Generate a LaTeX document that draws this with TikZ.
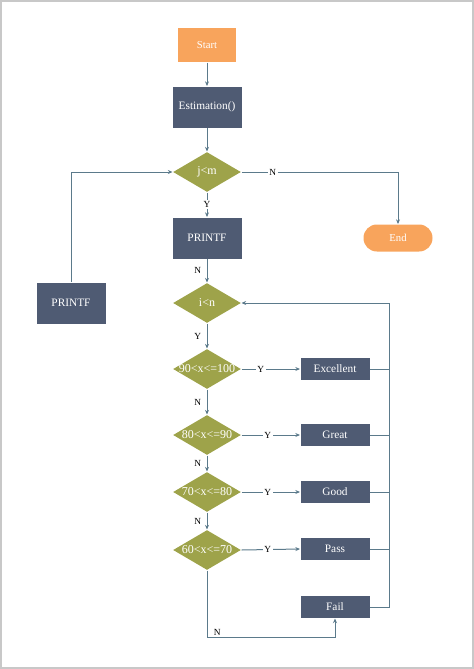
\documentclass[tikz,border=0pt]{standalone}
\usepackage{fontspec}
\setmainfont{Liberation Serif}
\usepackage{tikz}
\usetikzlibrary{shapes.geometric,arrows.meta}
\definecolor{startorange}{RGB}{248,164,92}
\definecolor{boxslate}{RGB}{79,91,115}
\definecolor{condolive}{RGB}{158,163,74}
\definecolor{flowline}{RGB}{91,122,139}
\definecolor{pageframe}{RGB}{200,200,200}
\tikzset{every picture/.style={line width=0.75pt}}

\begin{document}
\begin{tikzpicture}[x=0.75pt,y=0.75pt,yscale=-1,xscale=1,
	term/.style={fill=startorange,text=white,inner sep=0pt,minimum width=43.5pt,minimum height=25.5pt,font=\fontsize{8}{9}\selectfont},
	proc/.style={fill=boxslate,text=white,inner sep=0pt,minimum width=51.75pt,minimum height=30.75pt,font=\fontsize{8.5}{10}\selectfont},
	grade/.style={fill=boxslate,text=white,inner sep=0pt,minimum width=51.75pt,minimum height=16.5pt,font=\fontsize{8.5}{10}\selectfont},
	cond/.style={diamond,fill=condolive,text=white,inner sep=0pt,minimum width=51pt,minimum height=30pt,font=\fontsize{9}{10}\selectfont},
	flow/.style={draw=flowline,line width=0.75pt},
	arr/.style={flow,-{Stealth[length=3.5pt,width=3pt]}},
	yn/.style={inner sep=1pt,font=\fontsize{7}{8}\selectfont}]
	%set diagram to the page size, with the grey frame
	\useasboundingbox (0,0) rectangle (474,669);
	\draw [color=pageframe,line width=1.5pt] (1,1) rectangle (473,668);
	
	% Text Node
	\node [term] (start) at (207,45) {Start};
	\node [proc] (estim) at (207,107) {Estimation()};
	\node [cond] (jm) at (207,172) {\makebox[0pt]{j<m}};
	\node [term,minimum width=51.75pt,minimum height=20.25pt,rounded corners=10pt] (end) at (398,238) {End};
	\node [proc] (prmid) at (207,238) {PRINTF};
	\node [proc] (prleft) at (71,303) {PRINTF};
	\node [cond] (in) at (207,303) {\makebox[0pt]{i<n}};
	\node [cond] (ca) at (207,369) {\makebox[0pt]{90<x<=100}};
	\node [cond] (cb) at (207,435) {\makebox[0pt]{80<x<=90}};
	\node [cond] (cc) at (207,492) {\makebox[0pt]{70<x<=80}};
	\node [cond] (cd) at (207,550) {\makebox[0pt]{60<x<=70}};
	\node [grade] (exc) at (335,369) {Excellent};
	\node [grade] (great) at (335,435) {Great};
	\node [grade] (good) at (335,492) {Good};
	\node [grade] (pass) at (335,549) {Pass};
	\node [grade] (fail) at (335,607) {Fail};
	\coordinate (back) at (389,303);
	\coordinate (low) at (207,637);
	
	%Straight Lines
	\draw [arr] (start) -- (estim);
	\draw [arr] (estim) -- (jm);
	\draw [arr] (jm.east) -| node [yn,fill=white,pos=0.1] {N} (end.north);
	\draw [arr] (jm.south) -- node [yn,fill=white] {Y} (prmid.north);
	\draw [arr] (prmid.south) -- node [yn,left=3pt] {N} (in.north);
	\draw [arr] (prleft.north) |- (jm.west);
	\draw [arr] (in.south) -- node [yn,left=3pt] {Y} (ca.north);
	\draw [arr] (ca.south) -- node [yn,left=3pt] {N} (cb.north);
	\draw [arr] (cb.south) -- node [yn,left=3pt] {N} (cc.north);
	\draw [arr] (cc.south) -- node [yn,left=3pt] {N} (cd.north);
	\draw [arr] (ca.east) -- node [yn,fill=white,pos=0.33] {Y} (exc.west);
	\draw [arr] (cb.east) -- node [yn,fill=white,pos=0.45] {Y} (great.west);
	\draw [arr] (cc.east) -- node [yn,fill=white,pos=0.45] {Y} (good.west);
	\draw [arr] (cd.east) -- node [yn,fill=white,pos=0.45] {Y} (pass.west);
	\draw [arr] (cd.south) -- (low) -| node [yn,above right,pos=0.02] {N} (fail.south);
	%back to i<n
	\draw [flow] (exc.east) -- (exc.east -| back);
	\draw [flow] (great.east) -- (great.east -| back);
	\draw [flow] (good.east) -- (good.east -| back);
	\draw [flow] (pass.east) -- (pass.east -| back);
	\draw [arr] (fail.east) -| (back) -- (in.east);
	
\end{tikzpicture}
\end{document}
